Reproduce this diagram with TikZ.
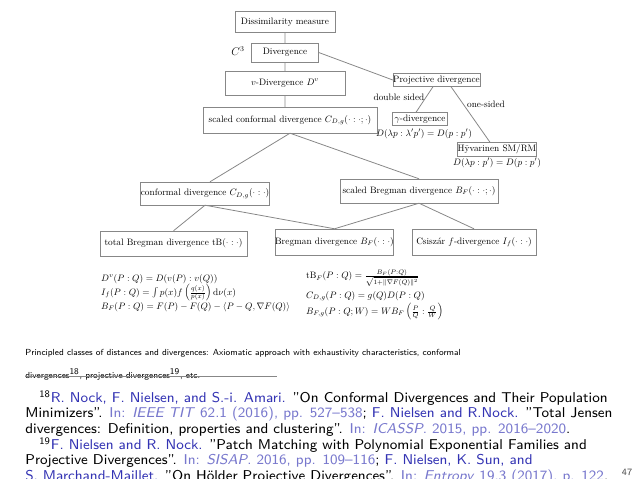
\RequirePackage{fix-cm}
\documentclass[tikz,border=0pt]{standalone}
\usepackage{amsmath}
\usepackage{amssymb}
\usepackage{fontspec}
\usepackage{xcolor}
\usepackage{tikz}
\usetikzlibrary{positioning, calc}
\definecolor{structblue}{RGB}{51,51,179}
\definecolor{linkblue}{RGB}{120,120,205}
\definecolor{linegray}{RGB}{135,135,135}

\begin{document}
\begin{tikzpicture}[
        x=0.02cm, y=-0.02cm,
        sc/.style={scale=0.53, transform shape},
        box/.style 2 args={rectangle, sc, draw=linegray, line width=0.45pt, fill=white, inner sep=0pt, minimum width=#1*0.02cm/0.53, minimum height=#2*0.02cm/0.53, align=center, font=\normalsize},
        lbl/.style={sc, inner sep=0pt, font=\normalsize},
        fml/.style={sc, inner sep=0pt, anchor=west, font=\normalsize},
        edge/.style={draw=linegray, line width=0.45pt},
        capt/.style={inner sep=0pt, anchor=north west, align=left, font=\sffamily\fontsize{5.0}{6.0}\selectfont},
        foot/.style={inner sep=0pt, anchor=north west, align=left, font=\sffamily\fontsize{8.1}{8.8}\selectfont}
    ]
    \useasboundingbox (0,0) rectangle (638,479);

    % Upper part: general divergences
    \node[box={100}{21}] (dis) at (285,22) {Dissimilarity measure};
    \node[box={67}{19}] (div) at (285,52.5) {Divergence};
    \node[box={120}{24}] (vdiv) at (285,83) {$v$-Divergence $D^v$};
    \node[box={174}{26}] (sconf) at (290,120) {scaled conformal divergence $C_{D,g}(\cdot:\cdot;\cdot)$};
    \node[lbl] (cthree) at (238,51) {\large$C^3$};

    % Right branch: projective divergences
    \node[box={87}{13}] (proj) at (436.5,80) {Projective divergence};
    \node[box={55}{13}] (gam) at (420,119) {$\gamma$-divergence};
    \node[box={78}{14}] (hyv) at (497,149.5) {Hÿvarinen SM/RM};
    \node[lbl] (dsided) at (399,97) {double sided};
    \node[lbl] (osided) at (486,104) {one-sided};
    \node[lbl] (gamlaw) at (424,134) {$D(\lambda p:\lambda' p')=D(p:p')$};
    \node[lbl] (hyvlaw) at (497,163) {$D(\lambda p:p')=D(p:p')$};

    % Lower part: conformal and Bregman families
    \node[box={124}{23}] (conf) at (205,193.5) {conformal divergence $C_{D,g}(\cdot:\cdot)$};
    \node[box={158}{24}] (sbreg) at (419,191) {scaled Bregman divergence $B_F(\cdot:\cdot;\cdot)$};
    \node[box={147}{25}] (tbreg) at (173.5,243.5) {total Bregman divergence $\mathrm{tB}(\cdot:\cdot)$};
    \node[box={117}{26}] (breg) at (334.5,242) {Bregman divergence $B_F(\cdot:\cdot)$};
    \node[box={124}{26}] (csis) at (474,242) {Csiszár $f$-divergence $I_f(\cdot:\cdot)$};

    % Tree edges
    \draw[edge] (dis) -- (div);
    \draw[edge] (div) -- (vdiv);
    \draw[edge] (vdiv) -- (sconf.north -| vdiv.south);
    \draw[edge] (div.east) -- (proj.west);
    \draw[edge] ([xshift=-0.07cm]proj.south) -- ([xshift=-0.08cm]gam.north);
    \draw[edge] ([xshift=0.29cm]proj.south) -- ([xshift=-0.14cm]hyv.north);
    \draw[edge] (sconf.south) -- ([xshift=0.1cm]conf.north);
    \draw[edge] (sconf.south) -- (sbreg.north);
    \draw[edge] (conf.south) -- (tbreg.north);
    \draw[edge] (conf.south) -- (breg.north);
    \draw[edge] (sbreg.south) -- (breg.north);
    \draw[edge] (sbreg.south) -- (csis.north);

    % Definitions
    \node[fml] (dvdef) at (101,279) {$D^v(P:Q)=D(v(P):v(Q))$};
    \node[fml] (ifdef) at (101,293) {$I_f(P:Q)=\int p(x) f\left(\frac{q(x)}{p(x)}\right)\mathrm{d}\nu(x)$};
    \node[fml] (bfdef) at (101,307) {$B_F(P:Q)=F(P)-F(Q)-\langle P-Q,\nabla F(Q)\rangle$};
    \node[fml] (tbdef) at (306,278) {$\mathrm{tB}_F(P:Q)=\frac{B_F(P:Q)}{\sqrt{1+\|\nabla F(Q)\|^2}}$};
    \node[fml] (cdgdef) at (306,296) {$C_{D,g}(P:Q)=g(Q)D(P:Q)$};
    \node[fml] (bfgdef) at (306,312) {$B_{F,g}(P:Q;W)=WB_F\left(\frac{P}{Q}:\frac{Q}{W}\right)$};

    % Caption and footnotes
    \node[capt] (caption) at (25,349) {Principled classes of distances and divergences: Axiomatic approach with exhaustivity characteristics, conformal\\[5.5pt]
        divergences\textsuperscript{18}, projective divergences\textsuperscript{19}, etc.};
    \coordinate (rulestart) at (25,376);
    \coordinate (ruleend) at (277,376);
    \draw[linegray, line width=0.5pt] (rulestart) -- (ruleend);

    \node[foot] (fnA) at (25,390) {\hspace*{8pt}\textsuperscript{18}\textcolor{structblue}{R. Nock, F. Nielsen, and S.-i. Amari.} "On Conformal Divergences and Their Population\\
        Minimizers". \textcolor{linkblue}{In: \textit{IEEE TIT} 62.1 (2016), pp. 527--538}; \textcolor{structblue}{F. Nielsen and R.Nock.} "Total Jensen\\
        divergences: Definition, properties and clustering". \textcolor{linkblue}{In: \textit{ICASSP}. 2015, pp. 2016--2020}.};
    \node[foot] (fnB) at (25,437) {\hspace*{8pt}\textsuperscript{19}\textcolor{structblue}{F. Nielsen and R. Nock.} "Patch Matching with Polynomial Exponential Families and\\
        Projective Divergences". \textcolor{linkblue}{In: \textit{SISAP}. 2016, pp. 109--116}; \textcolor{structblue}{F. Nielsen, K. Sun, and}\\
        \textcolor{structblue}{S. Marchand-Maillet.} "On Hölder Projective Divergences". \textcolor{linkblue}{In: \textit{Entropy} 19.3 (2017), p. 122}.};
    \node[inner sep=0pt, font=\sffamily\fontsize{5.5}{6}\selectfont, text=black!70] (pagenum) at (627,472) {47};

\end{tikzpicture}
\end{document}
